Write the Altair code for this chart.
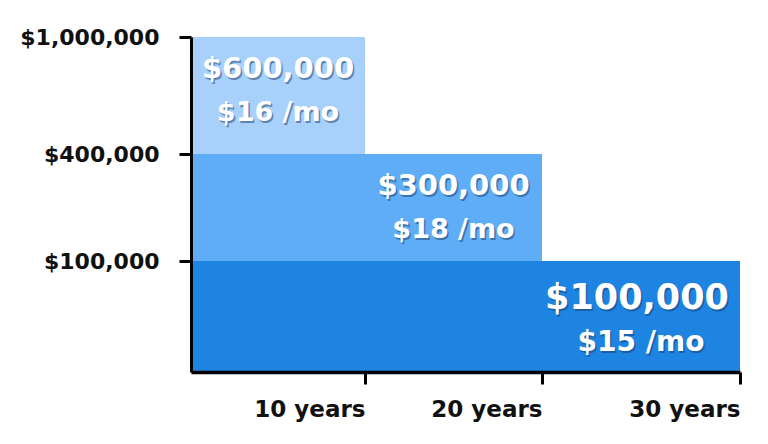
import altair as alt
import pandas as pd

# ---- data ----
terms = [10, 20, 30]                       # policy term, years
cov_top = [1000000, 400000, 100000]        # top of each coverage band
cov_bottom = [400000, 100000, 0]           # bottom of each coverage band
amount_labels = ["$600,000", "$300,000", "$100,000"]
price_labels = ["$16 /mo", "$18 /mo", "$15 /mo"]
band_colors = ["#A7D0FA", "#5FADF6", "#1E84E1"]

x_ticks = [10, 20, 30]
y_ticks = [100000, 400000, 1000000]

starts = [0] + terms[:-1]
df = pd.DataFrame({
    "x0": [0, 0, 0],
    "x1": terms,
    "y0": cov_bottom,
    "y1": cov_top,
    "xmid": [(a + b) / 2 for a, b in zip(starts, terms)],
    "amount": amount_labels,
    "price": price_labels,
    "color": band_colors,
    "band": [0, 1, 2],
})

FONT = "DejaVu Sans"

xscale = alt.Scale(domain=[0, 10, 20, 30], range=[0, 174, 351, 549])
yscale = alt.Scale(domain=[0, 100000, 400000, 1000000], range=[335, 224, 117, 0])

xaxis = alt.Axis(
    values=x_ticks, labelExpr="datum.value + ' years'", title=None,
    domainColor="black", domainWidth=3.5, tickColor="black", tickWidth=3,
    tickSize=12, labelAlign="right", labelBaseline="top", labelPadding=14,
    labelFont=FONT, labelFontSize=23, labelFontWeight="bold", labelColor="#111",
    grid=False, zindex=1, labelFlush=False,
)
yaxis = alt.Axis(
    values=y_ticks, format="$,d", title=None,
    domainColor="black", domainWidth=3, tickColor="black", tickWidth=3,
    tickSize=12, labelPadding=20, labelFont=FONT, labelFontSize=22,
    labelFontWeight="bold", labelColor="#111", grid=False, zindex=1,
)

base = alt.Chart(df)

bars = base.mark_rect().encode(
    x=alt.X("x0:Q", scale=xscale, axis=xaxis),
    x2="x1:Q",
    y=alt.Y("y0:Q", scale=yscale, axis=yaxis),
    y2="y1:Q",
    color=alt.Color("color:N", scale=None, legend=None),
)

def text_layer(field, size, dy, band_filter, shadow=False, dxs=0):
    props = dict(font=FONT, fontWeight="bold", fontSize=size, align="center",
                 baseline="middle", dy=dy, dx=dxs)
    if shadow:
        props.update(color="#1a3a66", opacity=0.5, dx=dxs + 1.5, dy=dy + 1.5)
    else:
        props.update(color="white")
    return base.transform_filter(band_filter).mark_text(**props).encode(
        x=alt.X("xmid:Q", scale=xscale),
        y=alt.Y("y1:Q", scale=yscale),
        text=f"{field}:N",
    )

small = "datum.band < 2"
big = "datum.band == 2"

layers = [bars]
for sh in (True, False):
    layers += [
        text_layer("amount", 29, 32, small, sh),
        text_layer("price", 27, 76, small, sh),
        text_layer("amount", 35, 37, big, sh, -4),
        text_layer("price", 28, 82, big, sh),
    ]

chart = alt.layer(*layers).properties(
    width=549, height=335,
    autosize=alt.AutoSizeParams(type="none"),
    padding={"left": 183, "top": 29, "right": 20, "bottom": 60},
).configure_view(stroke=None)

chart.save("out.html", embed_options={"renderer": "svg", "actions": False})
